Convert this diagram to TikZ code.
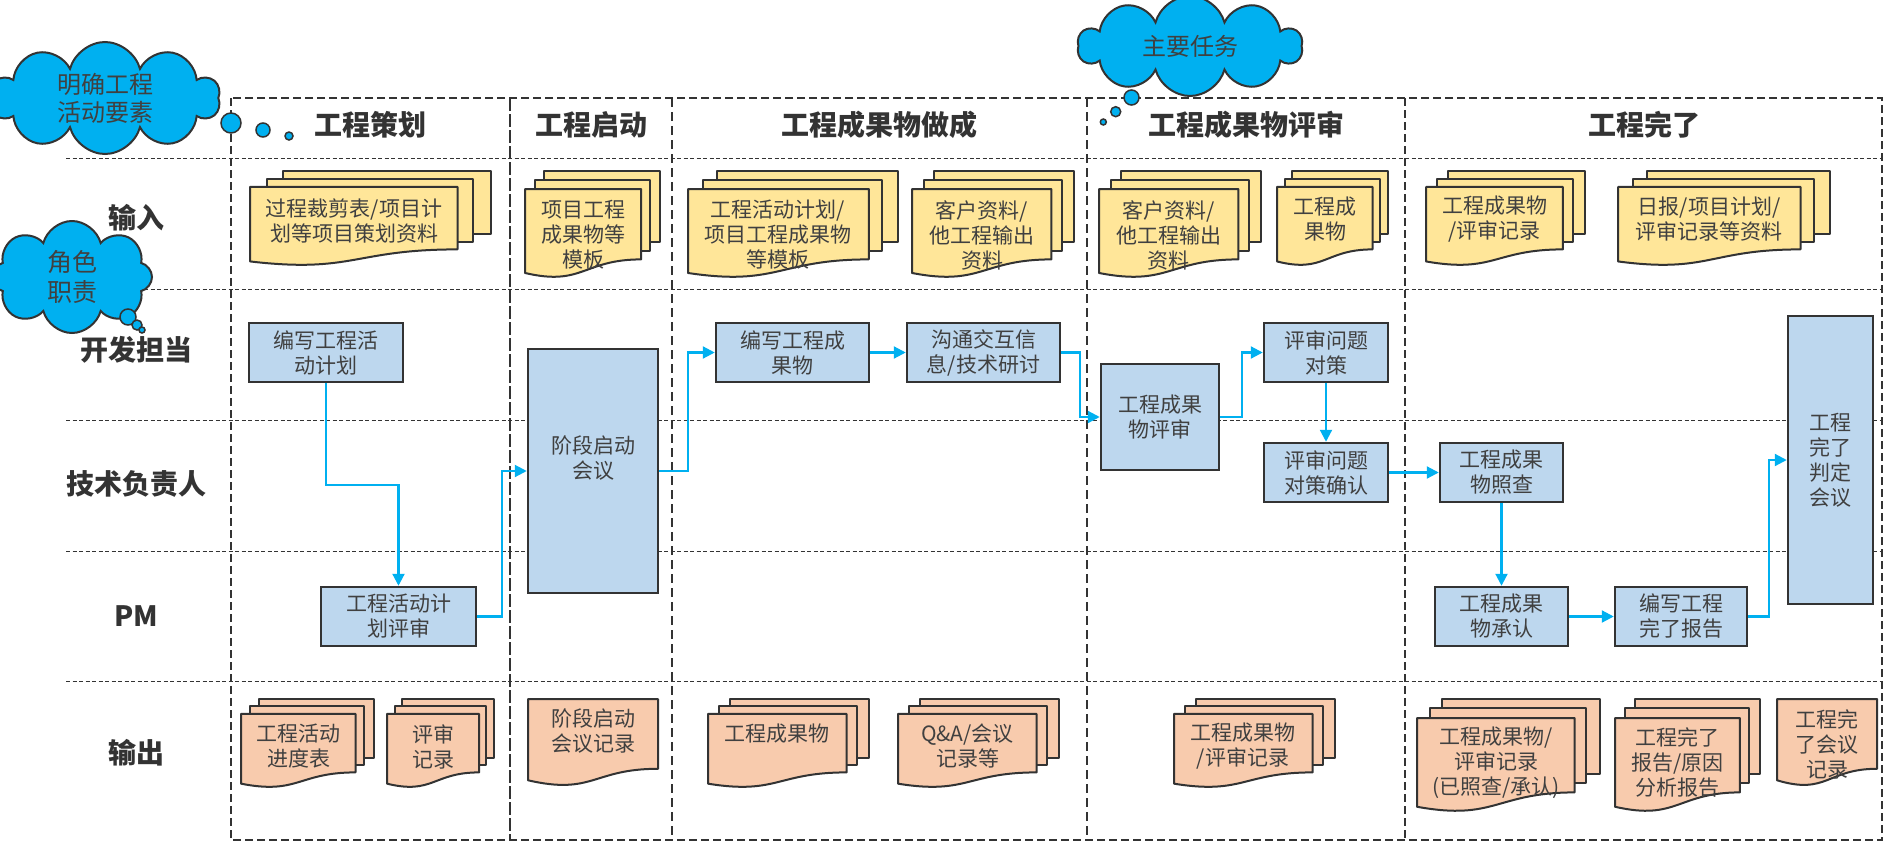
\documentclass[tikz,border=0pt]{standalone}
\usepackage{fontspec}
\setmainfont{Noto Sans CJK SC}
\usetikzlibrary{arrows.meta,shapes.symbols}
\definecolor{dk}{HTML}{333333}
\definecolor{txt}{HTML}{404040}
\definecolor{cy}{HTML}{00B0F0}
\definecolor{boxblue}{HTML}{BDD7EE}
\definecolor{docy}{HTML}{FFE699}
\definecolor{doco}{HTML}{F8CBAD}
\newcommand\bodyfont{\fontsize{21}{25}\selectfont}
\newcommand\hdrfont{\fontsize{28}{32}\selectfont\bfseries}
\newcommand\cloudfont{\fontsize{24}{28}\selectfont}
\newcommand\mdocshape[5]{%
  \path[docline,fill=#5] ({#1+0.138*#3},{#2}) rectangle ({#1+#3},{#2+0.666*#4});
  \path[docline,fill=#5] ({#1+0.071*#3},{#2+0.084*#4}) rectangle ({#1+0.926*#3},{#2+0.752*#4});
  \path[docline,fill=#5] ({#1},{#2+0.17*#4}) -- ({#1+0.861*#3},{#2+0.17*#4}) -- ({#1+0.861*#3},{#2+0.834*#4}) .. controls ({#1+0.43*#3},{#2+0.834*#4}) and ({#1+0.43*#3},{#2+1.09*#4}) .. ({#1},{#2+0.962*#4}) -- cycle;
}
\newcommand\sdocshape[5]{%
  \path[docline,fill=#5] ({#1},{#2}) -- ({#1+#3},{#2}) -- ({#1+#3},{#2+0.802*#4}) .. controls ({#1+0.5*#3},{#2+0.802*#4}) and ({#1+0.5*#3},{#2+1.1075*#4}) .. ({#1},{#2+0.934*#4}) -- cycle;
}
\tikzset{
  lane/.style={draw=dk, line width=1pt, dash pattern=on 4pt off 2.5pt},
  outerbox/.style={draw=dk, line width=2pt, dash pattern=on 8pt off 4pt},
  coldiv/.style={draw=dk, line width=2.5pt, dash pattern=on 9pt off 5pt},
  coldivthin/.style={draw=dk, line width=1.6pt, dash pattern=on 13pt off 3pt},
  procbox/.style={draw=dk, line width=2.5pt, fill=boxblue, text=txt, align=center, font=\bodyfont, inner sep=0pt},
  flow/.style={draw=cy, line width=2.2pt, -{Triangle[length=12pt,width=12pt]}},
  docline/.style={draw=dk, line width=2pt, line join=round},
  doctext/.style={text=txt, align=center, font=\bodyfont, inner sep=0pt},
  hdr/.style={text=dk, font=\hdrfont},
  thought/.style={cloud, cloud ignores aspect, draw=dk, line width=2pt, fill=cy, text=txt, align=center, font=\cloudfont, inner sep=0pt},
  bubble/.style={draw=dk, line width=1.5pt, fill=cy},
}
\begin{document}
\begin{tikzpicture}[x=1pt,y=-1pt]
\useasboundingbox (0,0) rectangle (1885,841);
% lane lines
\foreach \yy in {158,289,420,551,681} {\draw[lane] (66,\yy) -- (1882,\yy);}
% outer frame and column dividers
\draw[outerbox] (231,98) rectangle (1882,840);
\draw[coldivthin] (510,98) -- (510,840);
\draw[coldiv] (672,98) -- (672,840);
\draw[coldiv] (1087,98) -- (1087,840);
\draw[outerbox] (1405,98) -- (1405,840);

% headers
\node[hdr] (h1) at (370,125) {工程策划};
\node[hdr] (h2) at (591,125) {工程启动};
\node[hdr] (h3) at (879,125) {工程成果物做成};
\node[hdr] (h4) at (1246,125) {工程成果物评审};
\node[hdr] (h5) at (1644,125) {工程完了};

% row labels
\node[hdr] (r1) at (136,218) {输入};
\node[hdr] (r2) at (136,350) {开发担当};
\node[hdr] (r3) at (136,484) {技术负责人};
\node[hdr] (r4) at (136,616) {PM};
\node[hdr] (r5) at (136,753) {输出};

% clouds
\node[thought, cloud puffs=10, minimum width=230pt, minimum height=112pt] (c1) at (105,98) {明确工程\\活动要素};
\draw[bubble] (231,123) circle (10);
\draw[bubble] (263,130) circle (7);
\draw[bubble] (289,136) circle (4);
\node[thought, cloud puffs=8, minimum width=160pt, minimum height=112pt, font=\fontsize{25}{30}\selectfont] (c2) at (72,277) {角色\\职责};
\draw[bubble] (128,317) circle (8);
\draw[bubble] (137,325) circle (5);
\draw[bubble] (142,330) circle (3);
\node[thought, cloud puffs=10, minimum width=224pt, minimum height=100pt] (c3) at (1190,46) {主要任务};
\draw[bubble] (1131.5,97.5) circle (7.5);
\draw[bubble] (1115.7,111.7) circle (5);
\draw[bubble] (1103.3,122) circle (3);

% input documents
\mdocshape{250}{171}{241}{94}{docy}
\mdocshape{525}{171}{135}{106}{docy}
\mdocshape{688}{171}{210}{106}{docy}
\mdocshape{912}{171}{162}{106}{docy}
\mdocshape{1099}{171}{162}{106}{docy}
\mdocshape{1277}{171}{111}{94}{docy}
\mdocshape{1426}{171}{159}{94}{docy}
\mdocshape{1618}{171}{212}{94}{docy}
\node[doctext] (i1) at (354,220.5) {过程裁剪表/项目计\\划等项目策划资料};
\node[doctext] (i2) at (583,235) {项目工程\\成果物等\\模板};
\node[doctext] (i3) at (778,235) {工程活动计划/\\项目工程成果物\\等模板};
\node[doctext] (i4) at (982,235) {客户资料/\\他工程输出\\资料};
\node[doctext] (i5) at (1168.5,235) {客户资料/\\他工程输出\\资料};
\node[doctext] (i6) at (1325,219.5) {工程成\\果物};
\node[doctext] (i7) at (1494.5,219.5) {工程成果物\\/评审记录};
\node[doctext] (i8) at (1709,219.5) {日报/项目计划/\\评审记录等资料};

% output documents
\mdocshape{241}{699}{133}{88}{doco}
\mdocshape{387}{699}{107}{88}{doco}
\sdocshape{528}{699}{130}{87}{doco}
\mdocshape{708}{699}{161}{88}{doco}
\mdocshape{898}{699}{161}{88}{doco}
\mdocshape{1174}{699}{161}{88}{doco}
\mdocshape{1417}{699}{183}{112}{doco}
\mdocshape{1615}{699}{145}{112}{doco}
\sdocshape{1777}{699}{100}{87}{doco}
\node[doctext] (o1) at (298.5,746.5) {工程活动\\进度表};
\node[doctext] (o2) at (433,746.5) {评审\\记录};
\node[doctext] (o3) at (593,731.5) {阶段启动\\会议记录};
\node[doctext] (o4) at (777,734) {工程成果物};
\node[doctext] (o5) at (967.5,746.5) {Q\&A/会议\\记录等};
\node[doctext] (o6) at (1243,746.5) {工程成果物\\/评审记录};
\node[doctext] (o7) at (1496,763) {工程成果物/\\评审记录\\(已照查/承认)};
\node[doctext] (o8) at (1677.5,763) {工程完了\\报告/原因\\分析报告};
\node[doctext] (o9) at (1827,744) {工程完\\了会议\\记录};

% process boxes
\node[procbox, minimum width=154pt, minimum height=59pt] (b1) at (326,352.5) {编写工程活\\动计划};
\node[procbox, minimum width=155pt, minimum height=59pt] (b2) at (398.5,616.5) {工程活动计\\划评审};
\node[procbox, minimum width=130pt, minimum height=244pt] (kick) at (593,471) {};
\node[doctext] (kickt) at (593,458) {阶段启动\\会议};
\node[procbox, minimum width=153pt, minimum height=59pt] (b3) at (792.5,352.5) {编写工程成\\果物};
\node[procbox, minimum width=153pt, minimum height=59pt] (b4) at (983.5,352.5) {沟通交互信\\息/技术研讨};
\node[procbox, minimum width=118pt, minimum height=106pt] (rev) at (1160,417) {工程成果\\物评审};
\node[procbox, minimum width=124pt, minimum height=59pt] (cm) at (1326,352.5) {评审问题\\对策};
\node[procbox, minimum width=124pt, minimum height=59pt] (cc) at (1326,472.5) {评审问题\\对策确认};
\node[procbox, minimum width=123pt, minimum height=59pt] (ck) at (1501.5,472.5) {工程成果\\物照查};
\node[procbox, minimum width=133pt, minimum height=59pt] (ap) at (1501.5,616.5) {工程成果\\物承认};
\node[procbox, minimum width=132pt, minimum height=59pt] (wr) at (1681,616.5) {编写工程\\完了报告};
\node[procbox, minimum width=85pt, minimum height=288pt] (fin) at (1830.5,460) {工程\\完了\\判定\\会议};

% connectors
\draw[flow] (b1.south) -- ++(0,102) -| (b2.north);
\draw[flow] (b2.east) -- ++(25,0) |- (kick.west);
\draw[flow] (kick.east) -- ++(29,0) |- (b3.west);
\draw[flow] (b3.east) -- (b4.west);
\draw[flow] (b4.east) -- ++(19,0) |- (rev.west);
\draw[flow] (rev.east) -- ++(22,0) |- (cm.west);
\draw[flow] (cm.south) -- (cc.north);
\draw[flow] (cc.east) -- (ck.west);
\draw[flow] (ck.south) -- (ap.north);
\draw[flow] (ap.east) -- (wr.west);
\draw[flow] (wr.east) -- ++(21,0) |- (fin.west);
\end{tikzpicture}
\end{document}
